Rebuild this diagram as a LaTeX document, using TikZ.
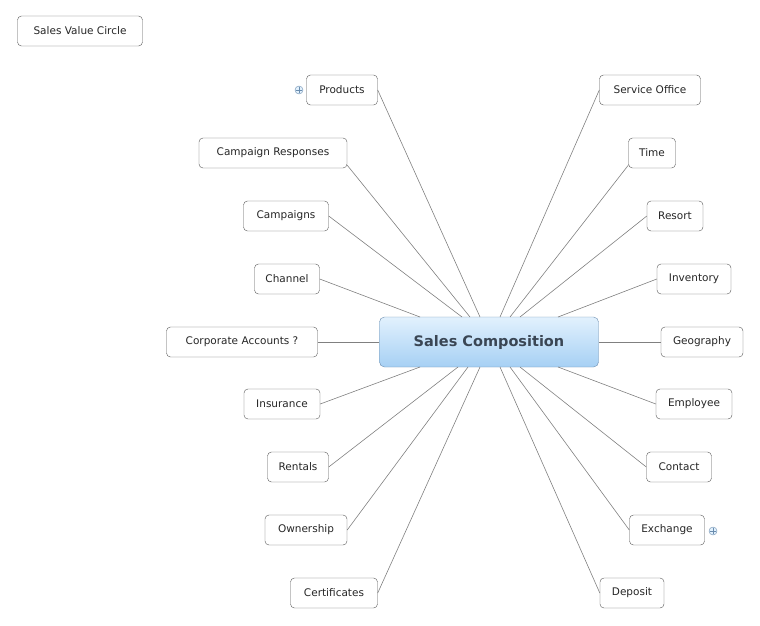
\documentclass[tikz,border=0pt]{standalone}
\usepackage{fontspec}
\setmainfont{DejaVu Sans}
\definecolor{ctop}{HTML}{E2F1FD}
\definecolor{cbot}{HTML}{A6D0F4}
\definecolor{cbrd}{HTML}{6A8CAE}
\definecolor{ctxt}{HTML}{3A4654}
\begin{document}
\begin{tikzpicture}[x=1pt,y=-1pt,
  leaf/.style={draw=black!65,rounded corners=4pt,fill=white,inner sep=0pt,minimum height=30pt,font=\fontsize{10.5}{12}\selectfont,text=black!85},
  conn/.style={draw=black!50,line width=0.6pt},
  plusicon/.style={circle,draw=cbrd,fill=ctop,inner sep=0pt,minimum size=8pt}]
\useasboundingbox (0,0) rectangle (760,626);
\node[leaf,minimum width=125pt] (svc) at (80,31) {Sales Value Circle};
\node[draw=cbrd,rounded corners=5pt,top color=ctop,bottom color=cbot,minimum width=219pt,minimum height=50pt,inner sep=0pt,font=\fontsize{14.5}{16}\selectfont\bfseries,text=ctxt] (c) at (489,342) {Sales Composition};
% left
\node[leaf,minimum width=71pt] (l1) at (342,90) {Products};
\node[leaf,minimum width=148pt] (l2) at (273,153) {Campaign Responses};
\node[leaf,minimum width=85pt] (l3) at (286,216) {Campaigns};
\node[leaf,minimum width=65pt] (l4) at (287,279) {Channel};
\node[leaf,minimum width=151pt] (l5) at (242,342) {Corporate Accounts ?};
\node[leaf,minimum width=76pt] (l6) at (282,404) {Insurance};
\node[leaf,minimum width=61pt] (l7) at (298,467) {Rentals};
\node[leaf,minimum width=82pt] (l8) at (306,530) {Ownership};
\node[leaf,minimum width=87pt] (l9) at (334,593) {Certificates};
% right
\node[leaf,minimum width=101pt] (r1) at (650,90) {Service Office};
\node[leaf,minimum width=47pt] (r2) at (652,153) {Time};
\node[leaf,minimum width=56pt] (r3) at (675,216) {Resort};
\node[leaf,minimum width=74pt] (r4) at (694,279) {Inventory};
\node[leaf,minimum width=82pt] (r5) at (702,342) {Geography};
\node[leaf,minimum width=76pt] (r6) at (694,404) {Employee};
\node[leaf,minimum width=65pt] (r7) at (679,467) {Contact};
\node[leaf,minimum width=75pt] (r8) at (667,530) {Exchange};
\node[leaf,minimum width=64pt] (r9) at (632,593) {Deposit};
\node[plusicon] (p1) at (299,90) {};
\node[plusicon] (p2) at (713,531) {};
\draw[cbrd,line width=0.6pt] ([xshift=1.5pt]p1.west)--([xshift=-1.5pt]p1.east) ([yshift=-1.5pt]p1.north)--([yshift=1.5pt]p1.south) ([xshift=1.5pt]p2.west)--([xshift=-1.5pt]p2.east) ([yshift=-1.5pt]p2.north)--([yshift=1.5pt]p2.south);
\coordinate (t1) at (480,317); \coordinate (t2) at (470,317); \coordinate (t3) at (462,317); \coordinate (t4) at (420,317);
\coordinate (b6) at (420,367); \coordinate (b7) at (458,367); \coordinate (b8) at (468,367); \coordinate (b9) at (480,367);
\coordinate (u1) at (500,317); \coordinate (u2) at (510,317); \coordinate (u3) at (520,317); \coordinate (u4) at (558,317);
\coordinate (d6) at (558,367); \coordinate (d7) at (520,367); \coordinate (d8) at (510,367); \coordinate (d9) at (500,367);
\draw[conn] (l1.east)--(t1); \draw[conn] (l2.south east)++(0,-3)--(t2); \draw[conn] (l3.east)--(t3); \draw[conn] (l4.east)--(t4);
\draw[conn] (l5.east)--(c.west);
\draw[conn] (l6.east)--(b6); \draw[conn] (l7.east)--(b7); \draw[conn] (l8.east)--(b8); \draw[conn] (l9.east)--(b9);
\draw[conn] (r1.west)--(u1); \draw[conn] (r2.south west)++(0,-3)--(u2); \draw[conn] (r3.west)--(u3); \draw[conn] (r4.west)--(u4);
\draw[conn] (r5.west)--(c.east);
\draw[conn] (r6.west)--(d6); \draw[conn] (r7.west)--(d7); \draw[conn] (r8.west)--(d8); \draw[conn] (r9.west)--(d9);
\end{tikzpicture}
\end{document}
